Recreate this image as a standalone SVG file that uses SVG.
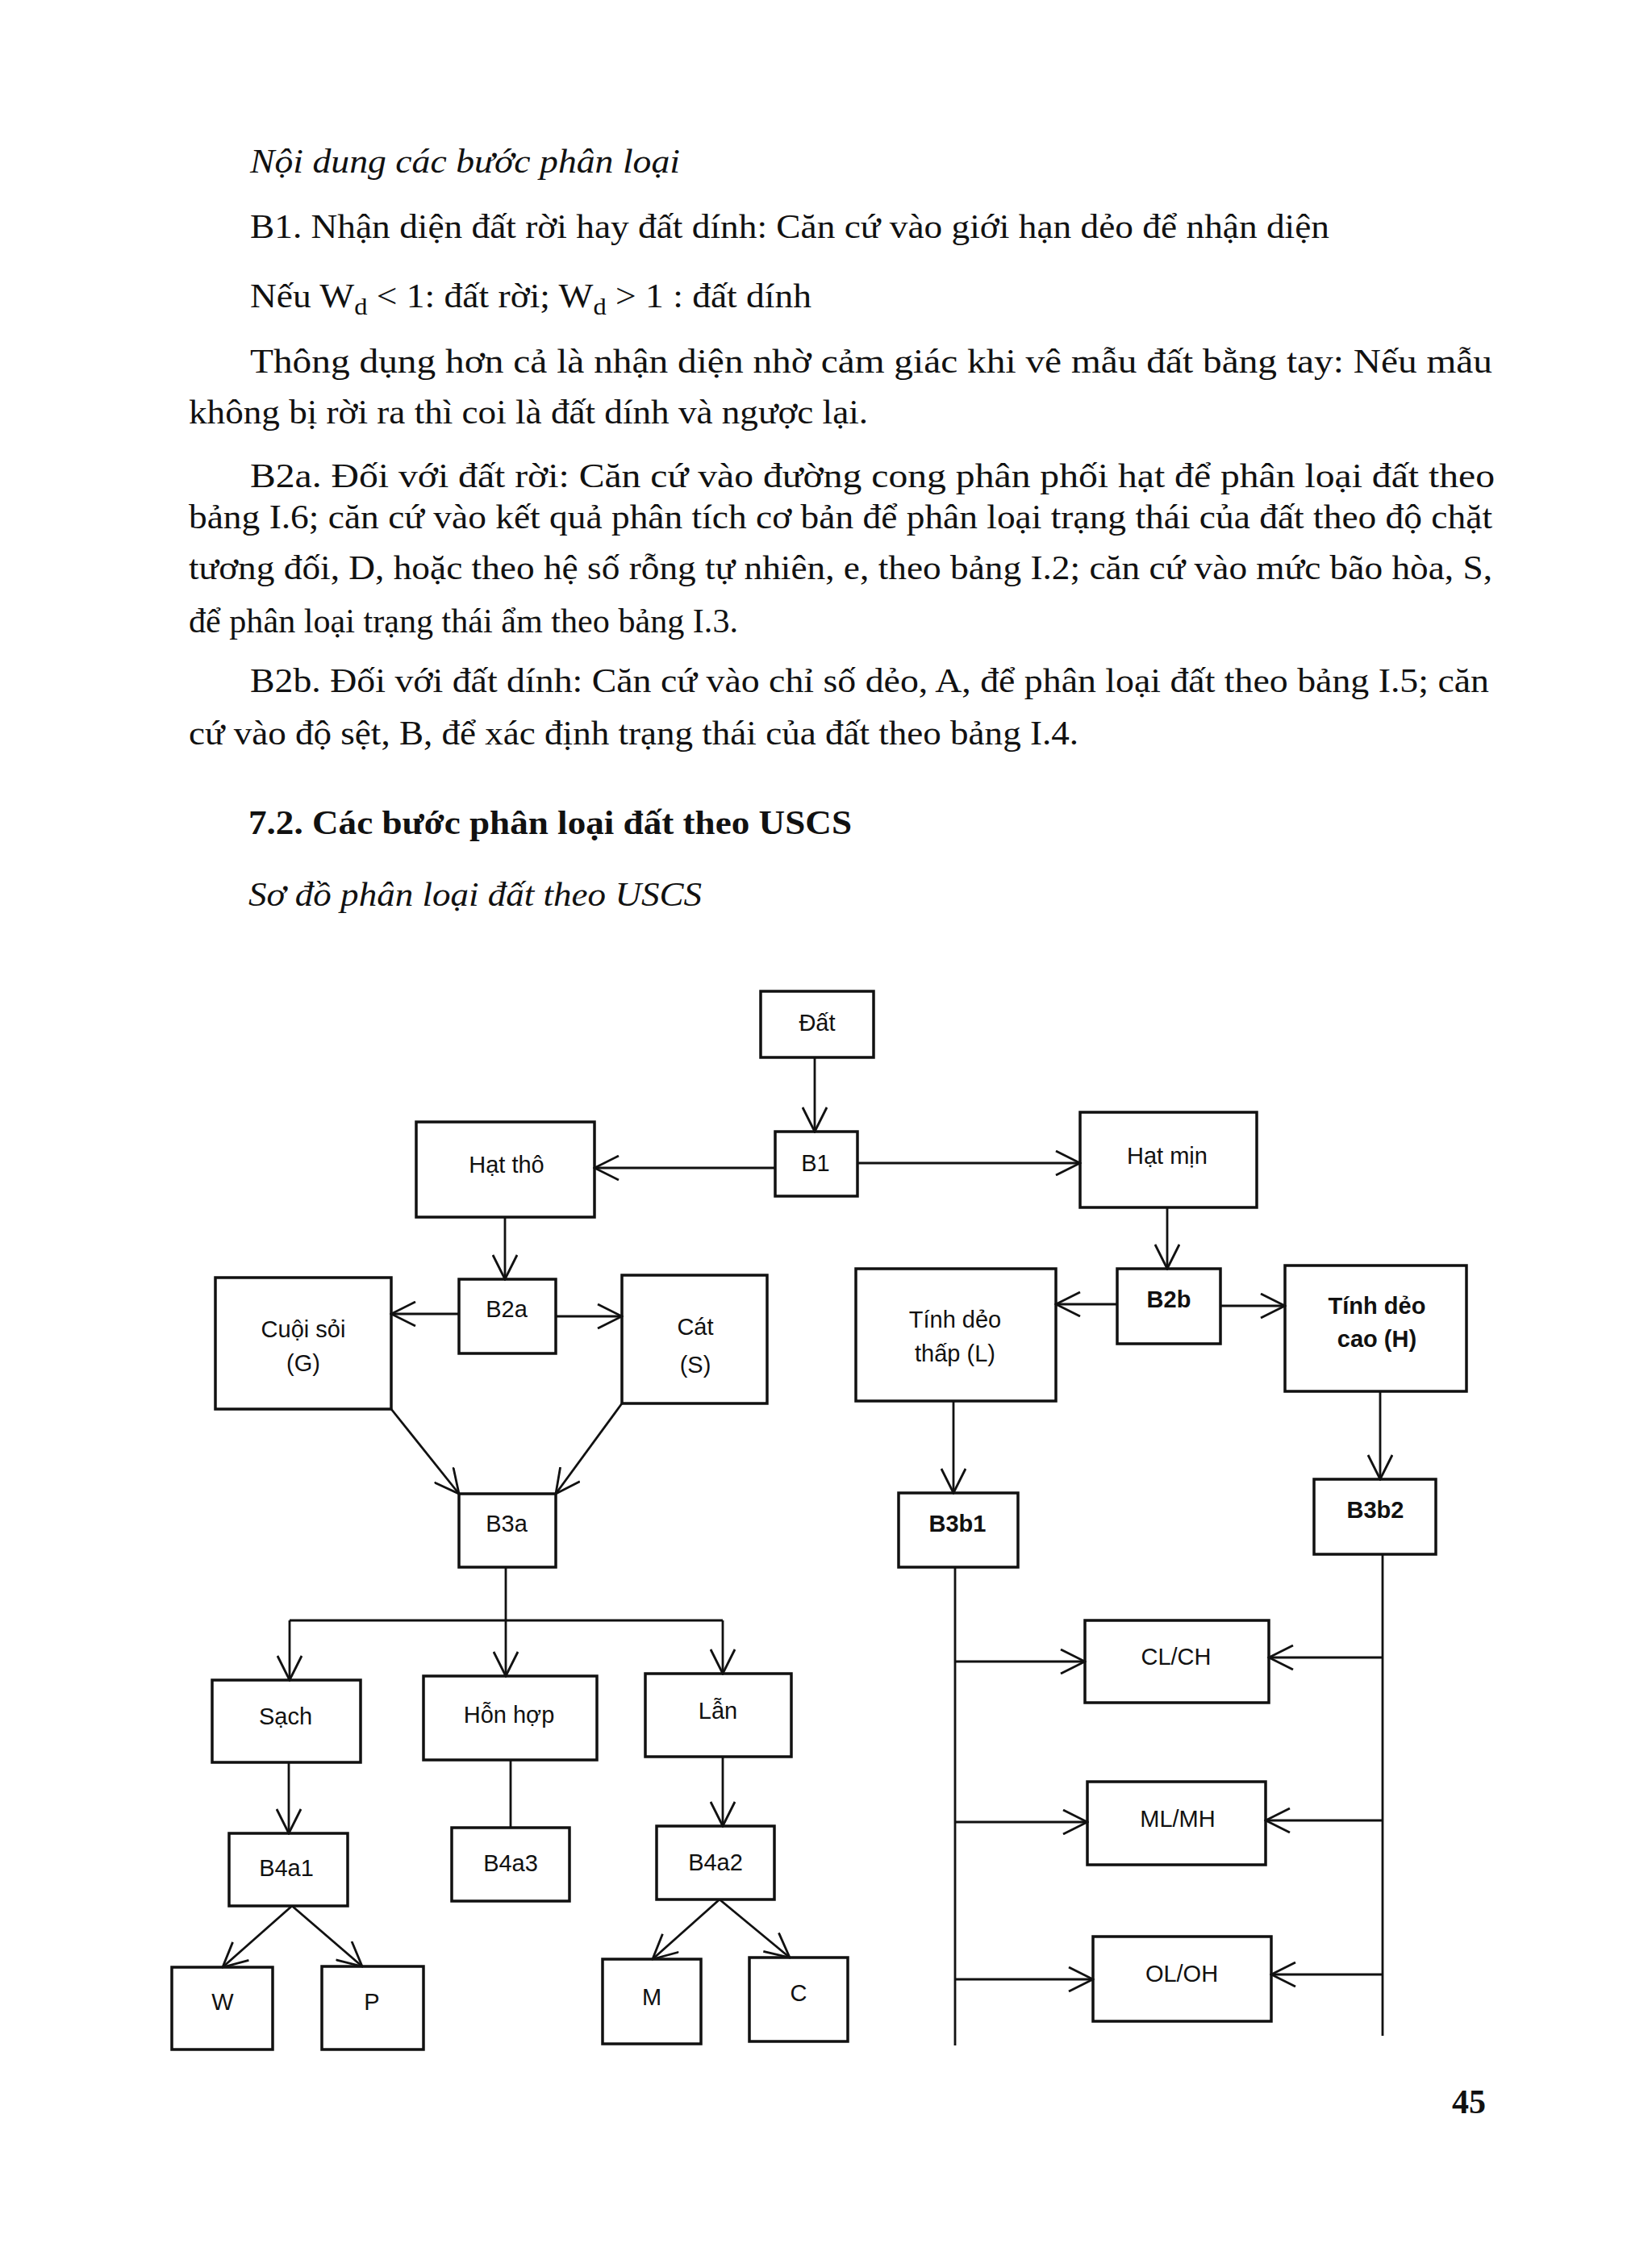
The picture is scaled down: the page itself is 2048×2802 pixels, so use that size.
<svg xmlns="http://www.w3.org/2000/svg" width="2048" height="2802" viewBox="0 0 2048 2802">
<style>
.bg{fill:#ffffff}
.body{font-family:"Liberation Serif","Times New Roman",serif;font-size:42px;fill:#111}
.it{font-style:italic}
.bold{font-weight:bold}
.box{fill:none;stroke:#111;stroke-width:3.5}
.lbl{font-family:"Liberation Sans",Arial,sans-serif;font-size:29px;fill:#111;text-anchor:middle}
.lb{font-weight:bold}
.ln{fill:none;stroke:#111;stroke-width:2.8}
.ar{fill:none;stroke:#111;stroke-width:2.8;marker-end:url(#v)}
</style>
<defs>
<marker id="v" viewBox="0 0 34 32" refX="32" refY="16" markerWidth="34" markerHeight="32" markerUnits="userSpaceOnUse" orient="auto">
<path d="M2,1 L32,16 L2,31" fill="none" stroke="#111" stroke-width="2.8"/>
</marker>
</defs>
<rect class="bg" x="0" y="0" width="2048" height="2802"/>

<g id="page-text">
<text class="body it" x="310" y="214" textLength="533" lengthAdjust="spacingAndGlyphs">Nội dung các bước phân loại</text>
<text class="body" x="310" y="295" textLength="1338" lengthAdjust="spacingAndGlyphs">B1. Nhận diện đất rời hay đất dính: Căn cứ vào giới hạn dẻo để nhận diện</text>
<text class="body" x="310" y="381" textLength="696" lengthAdjust="spacingAndGlyphs">Nếu W<tspan font-size="30" dy="9">d</tspan><tspan dy="-9"> &lt; 1: đất rời; W</tspan><tspan font-size="30" dy="9">d</tspan><tspan dy="-9"> &gt; 1 : đất dính</tspan></text>
<text class="body" x="310" y="462" textLength="1540" lengthAdjust="spacingAndGlyphs">Thông dụng hơn cả là nhận diện nhờ cảm giác khi vê mẫu đất bằng tay: Nếu mẫu</text>
<text class="body" x="234" y="525" textLength="842" lengthAdjust="spacingAndGlyphs">không bị rời ra thì coi là đất dính và ngược lại.</text>
<text class="body" x="310" y="604" textLength="1543" lengthAdjust="spacingAndGlyphs">B2a. Đối với đất rời: Căn cứ vào đường cong phân phối hạt để phân loại đất theo</text>
<text class="body" x="234" y="655" textLength="1616" lengthAdjust="spacingAndGlyphs">bảng I.6; căn cứ vào kết quả phân tích cơ bản để phân loại trạng thái của đất theo độ chặt</text>
<text class="body" x="234" y="718" textLength="1616" lengthAdjust="spacingAndGlyphs">tương đối, D, hoặc theo hệ số rỗng tự nhiên, e, theo bảng I.2; căn cứ vào mức bão hòa, S,</text>
<text class="body" x="234" y="784" textLength="681" lengthAdjust="spacingAndGlyphs">để phân loại trạng thái ẩm theo bảng I.3.</text>
<text class="body" x="310" y="858" textLength="1536" lengthAdjust="spacingAndGlyphs">B2b. Đối với đất dính: Căn cứ vào chỉ số dẻo, A, để phân loại đất theo bảng I.5; căn</text>
<text class="body" x="234" y="923" textLength="1103" lengthAdjust="spacingAndGlyphs">cứ vào độ sệt, B, để xác định trạng thái của đất theo bảng I.4.</text>
<text class="body bold" x="308" y="1034" textLength="748" lengthAdjust="spacingAndGlyphs">7.2. Các bước phân loại đất theo USCS</text>
<text class="body it" x="308" y="1123" textLength="562" lengthAdjust="spacingAndGlyphs">Sơ đồ phân loại đất theo USCS</text>
<text class="body bold" x="1800" y="2620" font-size="44">45</text>
</g>

<g id="connectors">
<path class="ar" d="M1010,1311 V1403"/>
<path class="ar" d="M961,1448 H737"/>
<path class="ar" d="M1063,1442 H1339"/>
<path class="ar" d="M626,1509 V1586"/>
<path class="ar" d="M569,1629 H485"/>
<path class="ar" d="M689,1632 H771"/>
<path class="ar" d="M1447,1497 V1573"/>
<path class="ar" d="M1385,1617 H1309"/>
<path class="ar" d="M1513,1619 H1593"/>
<path class="ar" d="M485,1747 L569,1852"/>
<path class="ar" d="M771,1740 L689,1852"/>
<path class="ln" d="M627,1943 V2009 M359,2009 H896"/>
<path class="ar" d="M359,2009 V2083"/>
<path class="ar" d="M627,2009 V2078"/>
<path class="ar" d="M896,2009 V2075"/>
<path class="ar" d="M358,2185 V2273"/>
<path class="ln" d="M633,2182 V2266"/>
<path class="ar" d="M896,2178 V2264"/>
<path class="ar" d="M362,2363 L276,2439"/>
<path class="ar" d="M362,2363 L449,2438"/>
<path class="ar" d="M892,2355 L809,2429"/>
<path class="ar" d="M892,2355 L979,2427"/>
<path class="ar" d="M1182,1737 V1851"/>
<path class="ar" d="M1711,1725 V1834"/>
<path class="ln" d="M1184,1943 V2536"/>
<path class="ln" d="M1714,1927 V2524"/>
<path class="ar" d="M1184,2060 H1345"/>
<path class="ar" d="M1184,2259 H1348"/>
<path class="ar" d="M1184,2454 H1355"/>
<path class="ar" d="M1714,2055 H1573"/>
<path class="ar" d="M1714,2257 H1569"/>
<path class="ar" d="M1714,2448 H1576"/>
</g>

<g id="n-dat"><rect class="box" x="943" y="1229" width="140" height="82"/><text class="lbl" x="1013" y="1278">Đất</text></g>
<g id="n-b1"><rect class="box" x="961" y="1403" width="102" height="80"/><text class="lbl" x="1011" y="1452">B1</text></g>
<g id="n-hat-tho"><rect class="box" x="516" y="1391" width="221" height="118"/><text class="lbl" x="628" y="1454">Hạt thô</text></g>
<g id="n-hat-min"><rect class="box" x="1339" y="1379" width="219" height="118"/><text class="lbl" x="1447" y="1443">Hạt mịn</text></g>
<g id="n-b2a"><rect class="box" x="569" y="1586" width="120" height="92"/><text class="lbl" x="628" y="1633">B2a</text></g>
<g id="n-cuoi-soi"><rect class="box" x="267" y="1584" width="218" height="163"/><text class="lbl" x="376" y="1658">Cuội sỏi</text><text class="lbl" x="376" y="1700">(G)</text></g>
<g id="n-cat"><rect class="box" x="771" y="1581" width="180" height="159"/><text class="lbl" x="862" y="1655">Cát</text><text class="lbl" x="862" y="1702">(S)</text></g>
<g id="n-b2b"><rect class="box" x="1385" y="1573" width="128" height="93"/><text class="lbl lb" x="1449" y="1621">B2b</text></g>
<g id="n-thap"><rect class="box" x="1061" y="1573" width="248" height="164"/><text class="lbl" x="1184" y="1646">Tính dẻo</text><text class="lbl" x="1184" y="1688">thấp (L)</text></g>
<g id="n-cao"><rect class="box" x="1593" y="1569" width="225" height="156"/><text class="lbl lb" x="1707" y="1629">Tính dẻo</text><text class="lbl lb" x="1707" y="1670">cao (H)</text></g>
<g id="n-b3a"><rect class="box" x="569" y="1852" width="120" height="91"/><text class="lbl" x="628" y="1899">B3a</text></g>
<g id="n-b3b1"><rect class="box" x="1114" y="1851" width="148" height="92"/><text class="lbl lb" x="1187" y="1899">B3b1</text></g>
<g id="n-b3b2"><rect class="box" x="1629" y="1834" width="151" height="93"/><text class="lbl lb" x="1705" y="1882">B3b2</text></g>
<g id="n-sach"><rect class="box" x="263" y="2083" width="184" height="102"/><text class="lbl" x="354" y="2138">Sạch</text></g>
<g id="n-hon-hop"><rect class="box" x="525" y="2078" width="215" height="104"/><text class="lbl" x="631" y="2136">Hỗn hợp</text></g>
<g id="n-lan"><rect class="box" x="800" y="2075" width="181" height="103"/><text class="lbl" x="890" y="2131">Lẫn</text></g>
<g id="n-b4a1"><rect class="box" x="284" y="2273" width="147" height="90"/><text class="lbl" x="355" y="2326">B4a1</text></g>
<g id="n-b4a3"><rect class="box" x="560" y="2266" width="146" height="91"/><text class="lbl" x="633" y="2320">B4a3</text></g>
<g id="n-b4a2"><rect class="box" x="814" y="2264" width="146" height="91"/><text class="lbl" x="887" y="2319">B4a2</text></g>
<g id="n-w"><rect class="box" x="213" y="2439" width="125" height="102"/><text class="lbl" x="276" y="2492">W</text></g>
<g id="n-p"><rect class="box" x="399" y="2438" width="126" height="103"/><text class="lbl" x="461" y="2492">P</text></g>
<g id="n-m"><rect class="box" x="747" y="2429" width="122" height="105"/><text class="lbl" x="808" y="2486">M</text></g>
<g id="n-c"><rect class="box" x="929" y="2427" width="122" height="104"/><text class="lbl" x="990" y="2481">C</text></g>
<g id="n-clch"><rect class="box" x="1345" y="2009" width="228" height="102"/><text class="lbl" x="1458" y="2064">CL/CH</text></g>
<g id="n-mlmh"><rect class="box" x="1348" y="2209" width="221" height="103"/><text class="lbl" x="1460" y="2265">ML/MH</text></g>
<g id="n-oloh"><rect class="box" x="1355" y="2401" width="221" height="105"/><text class="lbl" x="1465" y="2457">OL/OH</text></g>
</svg>
